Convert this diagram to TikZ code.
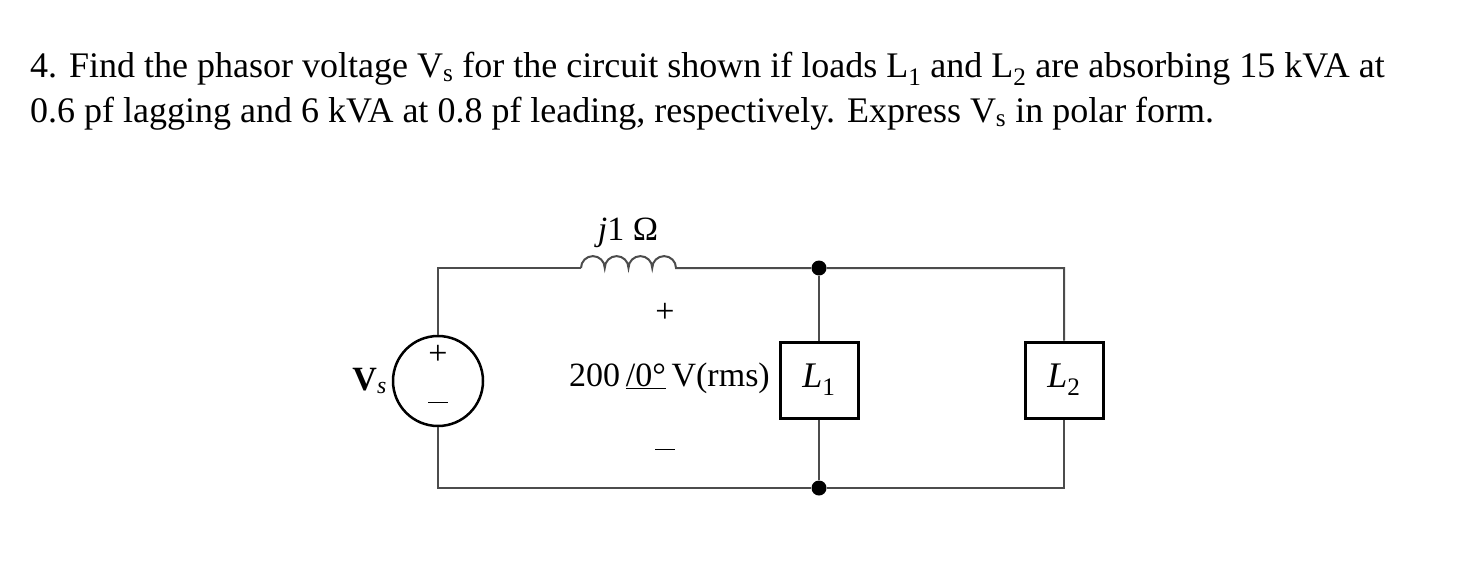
\documentclass[tikz,border=0pt]{standalone}
\usepackage{fontspec}
\setmainfont{Liberation Serif}
\begin{document}
\begin{tikzpicture}[x=1pt,y=-1pt,
  wire/.style={line width=2pt,draw=black!70},
  load/.style={draw,line width=3pt,minimum width=78pt,minimum height=76pt,fill=white,inner sep=0pt,font=\fontsize{36}{36}\selectfont},
  dot/.style={circle,fill=black,inner sep=0pt,minimum size=15pt},
  lab/.style={font=\fontsize{34}{36}\selectfont,inner sep=0pt}]
\useasboundingbox (0,0) rectangle (1468,584);
\node[anchor=north west,align=left,inner sep=0pt,font=\fontsize{36}{45}\selectfont] (title) at (30,52)
 {4. Find the phasor voltage V\textsubscript{s} for the circuit shown if loads L\textsubscript{1} and L\textsubscript{2} are absorbing 15 kVA at\\
  0.6 pf lagging and 6 kVA at 0.8 pf leading, respectively. Express V\textsubscript{s} in polar form.};
\coordinate (tl) at (438,268);
\coordinate (bl) at (438,488);
\coordinate (tr) at (1064,268);
\coordinate (br) at (1064,488);
\coordinate (i1) at (581,268);
\node[dot] (n1) at (819,268) {};
\node[dot] (n2) at (819,488) {};
\node[circle,draw,line width=2.5pt,minimum size=90pt,inner sep=0pt] (src) at (438,381) {};
\node[load] (L1) at (819,380) {\textit{L}\textsubscript{1}};
\node[load] (L2) at (1064,380) {\textit{L}\textsubscript{2}};
\draw[wire] (src.north) -- (tl) -- (i1);
\draw[wire] (i1) \foreach \k in {0,...,3} {arc[start angle=180,end angle=0,radius=11.875pt]} -- (n1) -- (tr) -- (L2.north);
\draw[wire] (src.south) -- (bl) -- (n2) -- (br) -- (L2.south);
\draw[wire] (n1) -- (L1.north);
\draw[wire] (n2) -- (L1.south);
\node[lab] (pin) at (438,355) {+};
\node[lab] (min) at (438,405) {\rule[0.3ex]{20pt}{1.5pt}};
\node[lab,anchor=east] (vs) at (387,381) {\textbf{V}\textsubscript{\textit{s}}};
\node[lab] (ind) at (628,233) {\textit{j}1 Ω};
\node[lab] (pl) at (665,313) {+};
\node[lab] (mi) at (665,452) {\rule[0.3ex]{20pt}{1.5pt}};
\node[lab,anchor=east] (val) at (770,378) {200\,\underline{/0°}\,V(rms)};
\end{tikzpicture}
\end{document}
